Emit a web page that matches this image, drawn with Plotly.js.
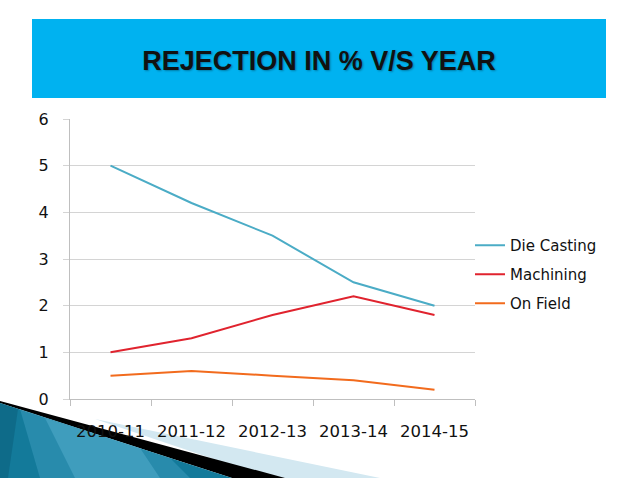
<!DOCTYPE html>
<html>
<head>
<meta charset="utf-8">
<script src="https://cdn.plot.ly/plotly-3.0.1.min.js"></script>
<style>
  html, body { margin: 0; padding: 0; background: #ffffff; }
  #chart { width: 638px; height: 478px; }
</style>
</head>
<body>
<div id="chart"></div>
<script>
// ---- data ----
var years = ["2010-11", "2011-12", "2012-13", "2013-14", "2014-15"];
var dieCasting = [5.0, 4.2, 3.5, 2.5, 2.0];
var machining  = [1.0, 1.3, 1.8, 2.2, 1.8];
var onField    = [0.5, 0.6, 0.5, 0.4, 0.2];
var seriesNames = ["Die Casting", "Machining", "On Field"];
var yTicks = [0, 1, 2, 3, 4, 5, 6];

// ---- layout geometry (pixels) ----
var W = 638, H = 478;
var L = 70, R = 475, T = 119, B = 399;
function px(x) { return (x - L) / (R - L); }
function py(y) { return (B - y) / (B - T); }
function path(pts) {
  return pts.map(function (p, i) { return (i ? "L" : "M") + px(p[0]).toFixed(4) + "," + py(p[1]).toFixed(4); }).join(" ") + " Z";
}

var colors = ["#4BACC6", "#E0232E", "#F26B1D"];
var dataSets = [dieCasting, machining, onField];

var traces = dataSets.map(function (vals, i) {
  return {
    type: "scatter",
    mode: "lines",
    x: years,
    y: vals,
    name: seriesNames[i],
    legendgroup: "g" + i,
    line: { color: colors[i], width: 2 },
    hoverinfo: "x+y+name"
  };
});

var shapes = [
  // title banner
  { type: "rect", xref: "paper", yref: "paper", layer: "below",
    x0: px(32), x1: px(606), y0: py(98), y1: py(19),
    fillcolor: "#00B2F0", line: { width: 0 } },
  // decorative swoosh - light blue wedge
  { type: "path", xref: "paper", yref: "paper", layer: "below",
    path: path([[95, 419], [380, 478], [270, 478]]),
    fillcolor: "#D3E8F1", line: { width: 0 } },
  // black wedge
  { type: "path", xref: "paper", yref: "paper", layer: "below",
    path: path([[0, 401], [285, 478], [232, 478], [0, 403]]),
    fillcolor: "#000000", line: { width: 0 } },
  // teal body
  { type: "path", xref: "paper", yref: "paper", layer: "below",
    path: path([[0, 403], [232, 478], [0, 478]]),
    fillcolor: "#137A9A", line: { width: 0 } },
  // soft lighter gradient bands in teal
  { type: "path", xref: "paper", yref: "paper", layer: "below",
    path: path([[20, 409], [170, 458], [190, 478], [40, 478]]),
    fillcolor: "rgba(90,180,215,0.30)", line: { width: 0 } },
  { type: "path", xref: "paper", yref: "paper", layer: "below",
    path: path([[45, 418], [140, 448], [160, 478], [75, 478]]),
    fillcolor: "rgba(120,200,230,0.30)", line: { width: 0 } },
  { type: "path", xref: "paper", yref: "paper", layer: "below",
    path: path([[0, 403], [18, 409], [8, 478], [0, 478]]),
    fillcolor: "rgba(5,80,105,0.35)", line: { width: 0 } }
];

var layout = {
  width: W, height: H,
  margin: { l: L, r: W - R, t: T, b: H - B, pad: 0 },
  paper_bgcolor: "#ffffff",
  plot_bgcolor: "rgba(0,0,0,0)",
  showlegend: true,
  title: {
    text: "<b>REJECTION IN % V/S YEAR</b>",
    xref: "container", yref: "container",
    x: 319 / W, y: 1 - 61 / H, xanchor: "center", yanchor: "middle",
    font: { family: "Liberation Sans, Arial, sans-serif", size: 27, color: "#111111",
            shadow: "1px 1px 2px rgba(0,0,0,0.3)" }
  },
  xaxis: {
    type: "category",
    range: [-0.5, 4.5],
    showgrid: false,
    showline: true, linecolor: "#BFBFBF", linewidth: 1,
    ticks: "outside", tickson: "boundaries", ticklen: 6, tickcolor: "#BFBFBF", tickwidth: 1,
    tickfont: { family: "DejaVu Sans, Verdana, sans-serif", size: 16.5, color: "#111111" },
    ticklabelstandoff: 17,
    zeroline: false,
    fixedrange: true
  },
  yaxis: {
    range: [0, 6],
    tickvals: yTicks,
    ticktext: yTicks.map(String),
    showgrid: true, gridcolor: "#D4D4D4", gridwidth: 1,
    showline: true, linecolor: "#BFBFBF", linewidth: 1,
    ticks: "outside", ticklen: 6, tickcolor: "#D4D4D4", tickwidth: 1,
    tickfont: { family: "DejaVu Sans, Verdana, sans-serif", size: 16, color: "#111111" },
    ticklabelstandoff: 11,
    zeroline: false,
    fixedrange: true
  },
  legend: {
    x: px(470), xanchor: "left",
    y: py(229), yanchor: "top",
    traceorder: "grouped",
    tracegroupgap: 6.5,
    bgcolor: "rgba(0,0,0,0)",
    font: { family: "DejaVu Sans, Verdana, sans-serif", size: 15, color: "#111111" },
    itemwidth: 30
  },
  shapes: shapes
};

Plotly.newPlot("chart", traces, layout, { displayModeBar: false, staticPlot: true });
</script>
</body>
</html>
